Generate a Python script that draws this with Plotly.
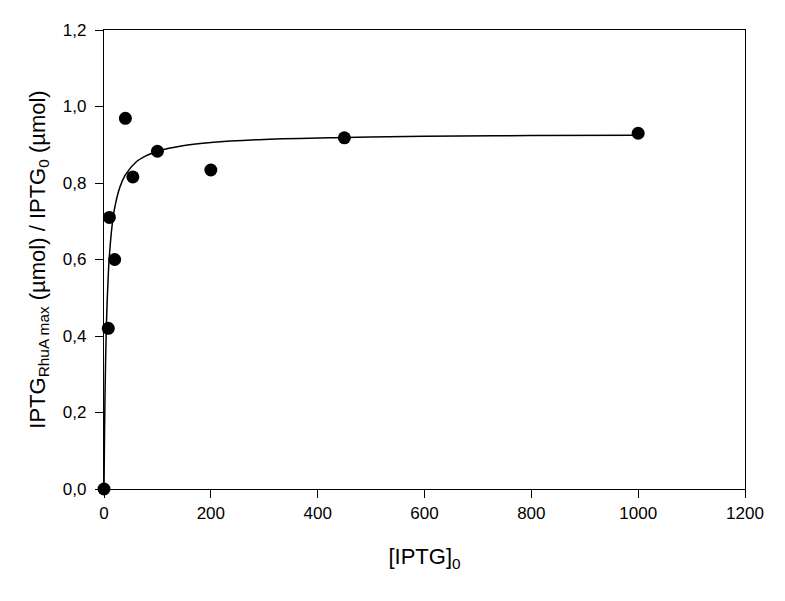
import plotly.graph_objects as go

# gemessene Punkte
iptg0 = [0, 8, 10, 20, 40, 54, 100, 200, 450, 1000]
ratio = [0.0, 0.42, 0.71, 0.60, 0.969, 0.816, 0.883, 0.834, 0.918, 0.930]

# Fitkurve
fit_x = [0, 1, 2, 3, 4, 6, 8, 10, 15, 20, 30, 40, 60, 80, 100, 150, 200, 300, 450, 600, 800, 1000]
fit_y = [0.0, 0.148, 0.255, 0.336, 0.400, 0.494, 0.559, 0.608, 0.687, 0.735, 0.790, 0.821,
         0.855, 0.872, 0.883, 0.898, 0.906, 0.914, 0.919, 0.922, 0.924, 0.925]

x_ticks = [0, 200, 400, 600, 800, 1000, 1200]
y_ticks = [0.0, 0.2, 0.4, 0.6, 0.8, 1.0, 1.2]

font = "Liberation Sans, Arial, sans-serif"

fig = go.Figure()
fig.add_trace(go.Scatter(x=fit_x, y=fit_y, mode="lines", line=dict(color="black", width=1.5, shape="spline"),
                         showlegend=False, hoverinfo="skip"))
fig.add_trace(go.Scatter(x=iptg0, y=ratio, mode="markers", marker=dict(color="black", size=13),
                         cliponaxis=False, showlegend=False))

axis = dict(showgrid=False, zeroline=False, showline=True, linecolor="black", linewidth=1.3,
            mirror=True, ticks="outside", ticklen=8, tickwidth=1.2, tickcolor="black",
            tickfont=dict(family=font, size=17, color="black"))

# die Seite hat 8px Rand, deshalb etwas kleiner
fig.update_layout(
    width=777, height=593,
    margin=dict(l=96, r=40, t=22, b=112),
    plot_bgcolor="white", paper_bgcolor="white",
    separators=", ",
    xaxis=dict(axis, range=[0, 1200], tickvals=x_ticks, tickformat="d",
               title=dict(text="[IPTG]<sub>0</sub>", font=dict(family=font, size=22, color="black"), standoff=27)),
    yaxis=dict(axis, range=[0, 1.2], tickvals=y_ticks, tickformat=".1f", ticklabelstandoff=5,
               title=dict(text="IPTG<sub>RhuA max</sub> (µmol) / IPTG<sub>0</sub> (µmol)",
                          font=dict(family=font, size=22, color="black"), standoff=11)),
)

fig.write_html("out.html")
